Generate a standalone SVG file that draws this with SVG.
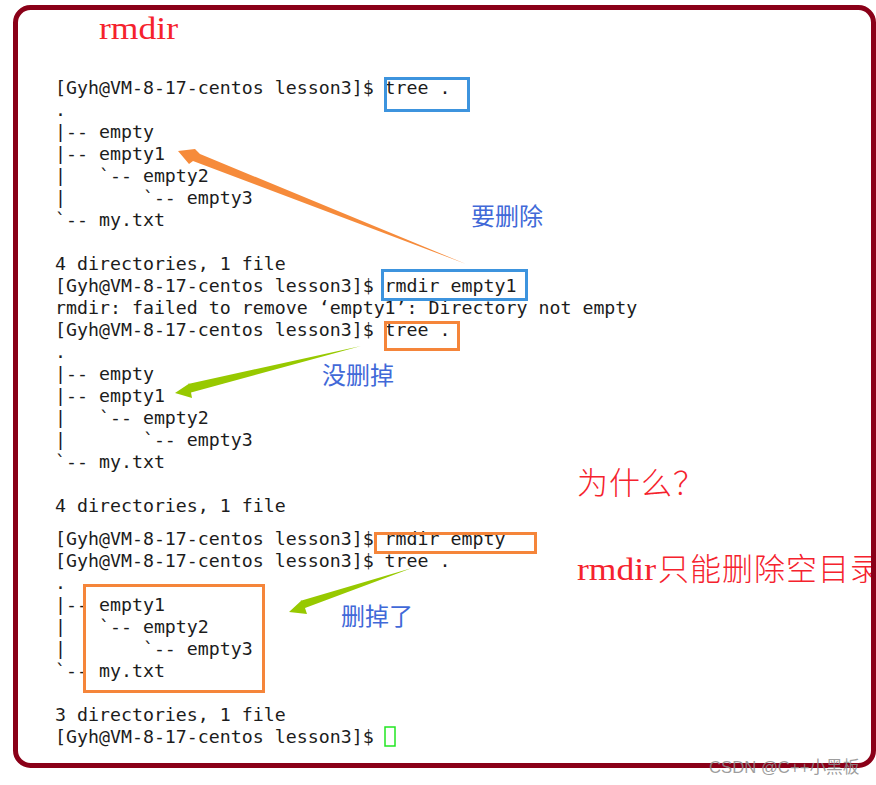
<svg xmlns="http://www.w3.org/2000/svg" width="876" height="785" viewBox="0 0 876 785">
<style>
.t{font-family:"DejaVu Sans Mono","Liberation Mono",monospace;font-size:18.25px;fill:#1c1c1c;white-space:pre}
.r{font-family:"Liberation Serif",serif;font-size:32px;fill:#f5222d}
.rc{font-family:"Noto Sans CJK SC",sans-serif;font-size:31px;font-weight:300;fill:#f5222d}
.b{font-family:"Noto Sans CJK SC",sans-serif;font-size:24px;fill:#4169d8}
.box{fill:none;stroke-width:3}
.bl{stroke:#3d94de}
.or{stroke:#f5853a}
</style>
<rect width="876" height="785" fill="#fff"/>
<g id="terminal1">
<text class="t" x="55" y="94">[Gyh@VM-8-17-centos lesson3]$ tree .</text>
<text class="t" x="55" y="116">.</text>
<text class="t" x="55" y="138">|-- empty</text>
<text class="t" x="55" y="160">|-- empty1</text>
<text class="t" x="55" y="182">|   `-- empty2</text>
<text class="t" x="55" y="204">|       `-- empty3</text>
<text class="t" x="55" y="226">`-- my.txt</text>
<text class="t" x="55" y="270">4 directories, 1 file</text>
<text class="t" x="55" y="292">[Gyh@VM-8-17-centos lesson3]$ rmdir empty1</text>
<text class="t" x="55" y="314">rmdir: failed to remove ‘empty1’: Directory not empty</text>
<text class="t" x="55" y="336">[Gyh@VM-8-17-centos lesson3]$ tree .</text>
<text class="t" x="55" y="358">.</text>
<text class="t" x="55" y="380">|-- empty</text>
<text class="t" x="55" y="402">|-- empty1</text>
<text class="t" x="55" y="424">|   `-- empty2</text>
<text class="t" x="55" y="446">|       `-- empty3</text>
<text class="t" x="55" y="468">`-- my.txt</text>
<text class="t" x="55" y="512">4 directories, 1 file</text>
</g>
<g id="terminal2">
<text class="t" x="55" y="545">[Gyh@VM-8-17-centos lesson3]$ rmdir empty</text>
<text class="t" x="55" y="567">[Gyh@VM-8-17-centos lesson3]$ tree .</text>
<text class="t" x="55" y="589">.</text>
<text class="t" x="55" y="611">|-- empty1</text>
<text class="t" x="55" y="633">|   `-- empty2</text>
<text class="t" x="55" y="655">|       `-- empty3</text>
<text class="t" x="55" y="677">`-- my.txt</text>
<text class="t" x="55" y="721">3 directories, 1 file</text>
<text class="t" x="55" y="743">[Gyh@VM-8-17-centos lesson3]$</text>
</g>
<g id="highlights">
<rect class="box bl" x="385.500" y="78.500" width="83" height="32"/>
<rect class="box bl" x="382.500" y="270.500" width="144" height="29"/>
<rect class="box or" x="385.500" y="322.500" width="73" height="27"/>
<rect class="box or" x="375.500" y="533.500" width="160" height="19"/>
<rect class="box or" x="84.500" y="585.500" width="179" height="106"/>
<rect x="385" y="727" width="10" height="19" fill="none" stroke="#22e622" stroke-width="1.500"/>
</g>
<g id="connectors">
<polygon points="466,264 200,154 195,149 178,151 189,164 193,161" fill="#f68b3b"/>
<polygon points="361,346 188,384 190,383 175,393 192,398 191,392.500" fill="#97c900"/>
<polygon points="412,568 300,601 302,600 289,612 307,614 305,608" fill="#97c900"/>
</g>
<g id="label-title"><text class="r" x="99" y="39" textLength="79" lengthAdjust="spacingAndGlyphs">rmdir</text></g>
<g id="label-delete"><text class="b" x="471" y="225">要删除</text></g>
<g id="label-not-deleted"><text class="b" x="322" y="384">没删掉</text></g>
<g id="label-deleted"><text class="b" x="341" y="625">删掉了</text></g>
<g id="label-why"><text class="rc" x="577" y="494" letter-spacing="1">为什么？</text></g>
<g id="label-answer"><text class="r" x="577" y="580" textLength="79" lengthAdjust="spacingAndGlyphs">rmdir</text><text class="rc" x="658" y="580" letter-spacing="1">只能删除空目录</text></g>
<g id="frame"><rect x="15.500" y="7.500" width="858" height="758" rx="15" fill="none" stroke="#8a0018" stroke-width="5"/></g>
<g id="watermark"><text x="709" y="773" font-family="'Liberation Sans','Noto Sans CJK SC',sans-serif" font-size="16.700" fill="#8c8c8c" fill-opacity="0.85">CSDN @C++小黑板</text></g>
</svg>
